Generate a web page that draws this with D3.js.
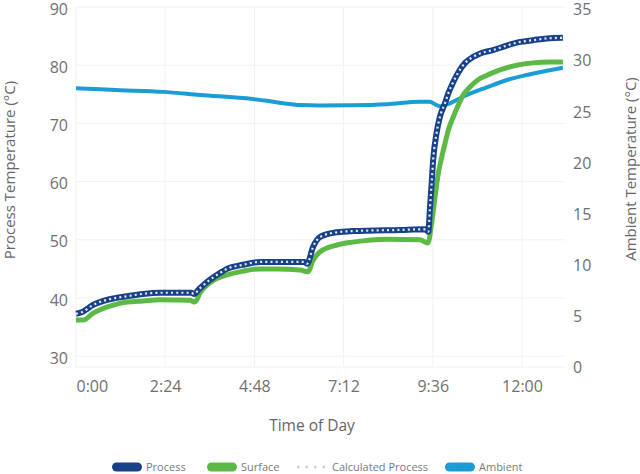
<!DOCTYPE html>
<html>
<head>
<meta charset="utf-8">
<script src="https://cdn.jsdelivr.net/npm/d3@7"></script>
<style>
    body { margin: 0; background: #fff; }
    text { font-family: "Open Sans", "Noto Sans", sans-serif; }
</style>
</head>
<body>
<div id="chart"></div>
<script>
"use strict";

// time of day in hours, temperatures in degC
var processTime = [0, 0.17, 0.46, 0.91, 1.37, 1.8, 2.26, 3.1, 3.17, 3.34, 3.6, 3.85, 4.06, 4.49, 4.95, 5.41,
    6.15, 6.22, 6.38, 6.57, 7.03, 7.46, 8.72, 9.4, 9.48, 9.52, 9.57, 9.61, 9.7, 9.79, 9.93, 10.02,
    10.15, 10.29, 10.47, 10.68, 10.91, 11.22, 11.41, 11.95, 12.3, 12.67, 13.1];
var processTemp = [37.3, 37.6, 38.8, 39.8, 40.3, 40.7, 40.9, 40.9, 40.7, 41.7, 43.1, 44.2, 45.0, 45.7, 46.2, 46.2,
    46.2, 45.9, 48.8, 50.5, 51.3, 51.5, 51.7, 51.8, 51.4, 55.1, 59.8, 63.7, 68.3, 71.1, 73.5, 75.2,
    77.1, 78.8, 80.4, 81.4, 82.1, 82.6, 83.0, 84.0, 84.3, 84.6, 84.7];
var calcTemp = [37.3, 37.6, 38.8, 39.8, 40.3, 40.7, 40.9, 40.9, 40.7, 41.7, 43.1, 44.2, 45.0, 45.7, 46.2, 46.2,
    46.2, 45.9, 48.8, 50.5, 51.3, 51.5, 51.7, 51.8, 51.4, 55.1, 59.8, 63.7, 68.3, 71.1, 73.5, 75.2,
    77.1, 78.8, 80.4, 81.4, 82.1, 82.6, 83.0, 84.0, 84.3, 84.6, 84.7];

var surfaceTime = [0, 0.19, 0.46, 0.91, 1.37, 1.8, 2.26, 3.07, 3.2, 3.34, 3.6, 4.06, 4.49, 4.95, 5.41,
    6.03, 6.24, 6.38, 6.56, 7.02, 7.45, 8.37, 9.25, 9.47, 9.57, 9.66, 9.75, 9.84, 9.93, 10.02,
    10.15, 10.29, 10.42, 10.6, 10.82, 11.0, 11.41, 11.86, 12.29, 12.75, 13.1];
var surfaceTemp = [36.2, 36.2, 37.4, 38.6, 39.3, 39.5, 39.7, 39.6, 39.3, 40.9, 42.6, 43.95, 44.6, 45.0, 45.0,
    44.8, 44.5, 46.5, 47.9, 49.1, 49.6, 50.1, 50.0, 49.45, 52.9, 57.35, 61.5, 64.2, 66.6, 68.9,
    71.1, 73.2, 74.9, 76.25, 77.5, 78.1, 79.2, 80.0, 80.4, 80.55, 80.55];

var ambientTime = [0, 1.2, 2.34, 3.34, 4.76, 5.14, 5.57, 6.03, 6.56, 7.45, 8.37, 9.25, 9.52, 9.66, 9.79,
    10.06, 10.41, 11.05, 11.59, 12.13, 12.67, 13.1];
var ambientTemp = [27.15, 26.97, 26.8, 26.5, 26.1, 25.93, 25.68, 25.51, 25.48, 25.5, 25.6, 25.84, 25.84, 25.58, 25.4,
    25.68, 26.32, 27.24, 27.96, 28.45, 28.87, 29.16];

var xTicks = [0, 2.4, 4.8, 7.2, 9.6, 12];
var xTickLabels = ["0:00", "2:24", "4:48", "7:12", "9:36", "12:00"];
var leftTicks = [30, 40, 50, 60, 70, 80, 90];
var rightTicks = [0, 5, 10, 15, 20, 25, 30, 35];

var legendNames = ["Process", "Surface", "Calculated Process", "Ambient"];

var colors = {
    process: "#17428a",
    surface: "#5cb946",
    calc: "#ececec",
    ambient: "#1a9cd4",
    grid: "#f1f1f1",
    tick: "#707070",
    title: "#666"
};

var width = 640, height = 474;
var plot = {left: 76, right: 565, top: 7, bottom: 367};

var svg = d3.select("#chart").append("svg")
    .attr("width", width)
    .attr("height", height);

var x = d3.scaleLinear().domain([0, 12]).range([plot.left, 522]);
var yLeft = d3.scaleLinear().domain([28.14, 90]).range([plot.bottom, plot.top]);
var yRight = d3.scaleLinear().domain([0, 35]).range([366, 8]);

////////////////////////////////////////////////
// grid
var grid = svg.append("g");
grid.selectAll("line.v").data(xTicks).enter().append("line")
    .attr("x1", function (d) { return x(d); })
    .attr("x2", function (d) { return x(d); })
    .attr("y1", plot.top)
    .attr("y2", plot.bottom)
    .attr("stroke", colors.grid);
grid.selectAll("line.h").data(leftTicks).enter().append("line")
    .attr("x1", plot.left)
    .attr("x2", plot.right)
    .attr("y1", function (d) { return yLeft(d); })
    .attr("y2", function (d) { return yLeft(d); })
    .attr("stroke", colors.grid);
grid.append("line")
    .attr("x1", plot.left).attr("x2", plot.right)
    .attr("y1", plot.bottom).attr("y2", plot.bottom)
    .attr("stroke", colors.grid);

////////////////////////////////////////////////
// axes
var xAxis = d3.axisBottom(x).tickValues(xTicks)
    .tickFormat(function (d, i) { return xTickLabels[i]; })
    .tickSize(0).tickPadding(14);
var gx = svg.append("g")
    .attr("transform", "translate(0," + plot.bottom + ")")
    .call(xAxis);
// first label starts at the plot edge
gx.selectAll(".tick text").filter(function (d) { return d === 0; })
    .attr("text-anchor", "start");

var gl = svg.append("g")
    .attr("transform", "translate(68,0)")
    .call(d3.axisLeft(yLeft).tickValues(leftTicks).tickSize(0).tickPadding(0));

var gr = svg.append("g")
    .attr("transform", "translate(573,0)")
    .call(d3.axisRight(yRight).tickValues(rightTicks).tickSize(0).tickPadding(0));

[gx, gl, gr].forEach(function (g) {
    g.select(".domain").remove();
    g.selectAll(".tick text")
        .attr("fill", colors.tick)
        .style("font-size", "16px")
        .style("font-family", "\"Open Sans\", sans-serif");
});
gl.selectAll(".tick text").attr("dy", "0.45em");
gr.selectAll(".tick text").attr("dy", "0.42em");

svg.append("text")
    .attr("x", 312).attr("y", 431)
    .attr("text-anchor", "middle")
    .attr("fill", colors.title)
    .style("font-size", "15.5px")
    .text("Time of Day");

svg.append("text")
    .attr("transform", "translate(15,170) rotate(-90)")
    .attr("text-anchor", "middle")
    .attr("fill", colors.title)
    .style("font-size", "15px")
    .text("Process Temperature (°C)");

svg.append("text")
    .attr("transform", "translate(636,169) rotate(-90)")
    .attr("text-anchor", "middle")
    .attr("fill", colors.title)
    .style("font-size", "15px")
    .text("Ambient Temperature (°C)");

////////////////////////////////////////////////
// series
function zip(t, v) {
    return t.map(function (d, i) { return [d, v[i]]; });
}

var lineLeft = d3.line()
    .x(function (d) { return x(d[0]); })
    .y(function (d) { return yLeft(d[1]); })
    .curve(d3.curveMonotoneX);
var lineRight = d3.line()
    .x(function (d) { return x(d[0]); })
    .y(function (d) { return yRight(d[1]); })
    .curve(d3.curveMonotoneX);

var series = svg.append("g").attr("fill", "none").attr("stroke-linejoin", "round");

series.append("path")
    .attr("d", lineRight(zip(ambientTime, ambientTemp)))
    .attr("stroke", colors.ambient)
    .attr("stroke-width", 4);

series.append("path")
    .attr("d", lineLeft(zip(surfaceTime, surfaceTemp)))
    .attr("stroke", colors.surface)
    .attr("stroke-width", 5);

series.append("path")
    .attr("d", lineLeft(zip(processTime, processTemp)))
    .attr("stroke", colors.process)
    .attr("stroke-width", 6);

series.append("path")
    .attr("d", lineLeft(zip(processTime, calcTemp)))
    .attr("stroke", colors.calc)
    .attr("stroke-width", 2.2)
    .attr("stroke-dasharray", "2,3.2");

////////////////////////////////////////////////
// legend
var legendX = [112, 207, 297, 445];
var legendColors = [colors.process, colors.surface, "#cfcfcf", colors.ambient];
var legend = svg.append("g").attr("transform", "translate(0,467)");
var items = legend.selectAll("g").data(legendNames).enter().append("g")
    .attr("transform", function (d, i) { return "translate(" + legendX[i] + ",0)"; });

items.filter(function (d, i) { return i !== 2; }).append("rect")
    .attr("x", 0).attr("y", -4.5)
    .attr("width", 30).attr("height", 9)
    .attr("rx", 4.5)
    .attr("fill", function (d) { return legendColors[legendNames.indexOf(d)]; });

items.filter(function (d, i) { return i === 2; }).append("line")
    .attr("x1", 0).attr("x2", 28)
    .attr("y1", 0).attr("y2", 0)
    .attr("stroke", legendColors[2])
    .attr("stroke-width", 2.5)
    .attr("stroke-dasharray", "2.5,6");

items.append("text")
    .attr("x", function (d, i) { return i === 2 ? 35 : 34; })
    .attr("y", 4)
    .attr("fill", "#7a7a7a")
    .style("font-size", "11px")
    .text(function (d) { return d; });
</script>
</body>
</html>
